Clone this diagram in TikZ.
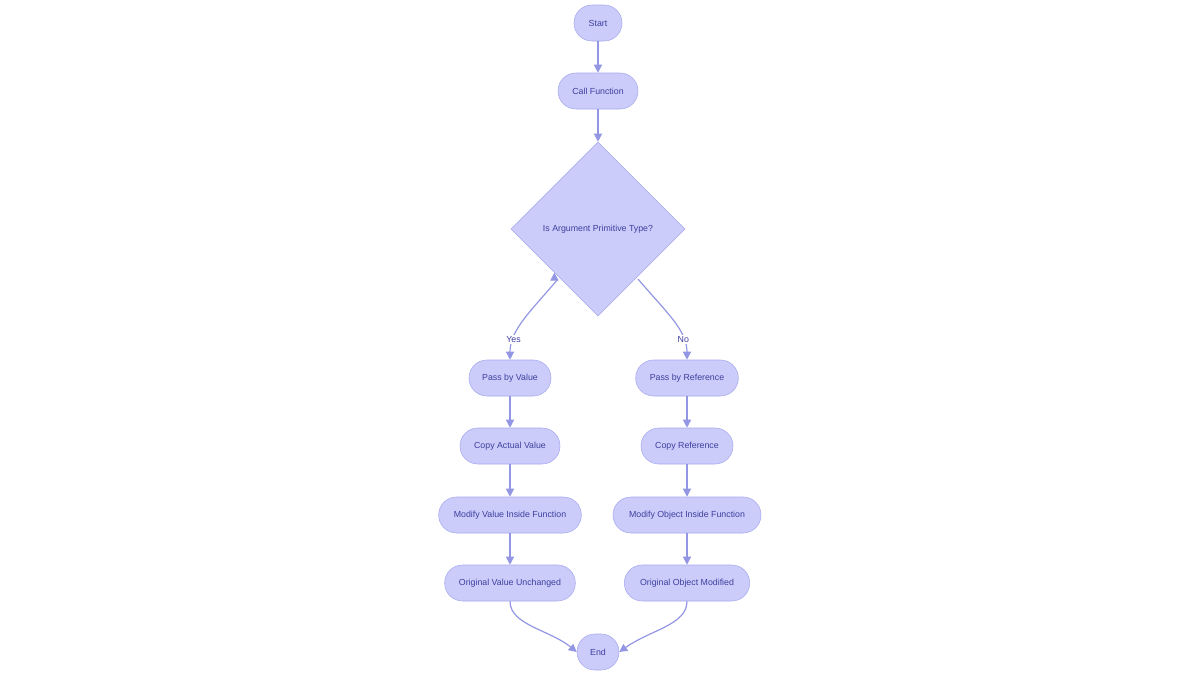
\documentclass[tikz,border=0pt]{standalone}
\usepackage{fontspec}
\setmainfont{Liberation Sans}
\usetikzlibrary{shapes.geometric,arrows.meta}
\definecolor{nfill}{HTML}{CBCCFA}
\definecolor{nline}{HTML}{A6A9EE}
\definecolor{ntext}{HTML}{3E3F9E}
\definecolor{eline}{HTML}{9396E3}
\begin{document}
\begin{tikzpicture}[x=0.75pt,y=-0.75pt,
  box/.style={draw=nline,fill=nfill,text=ntext,rounded corners=13.4pt,minimum height=27pt,inner sep=0pt,font=\fontsize{6.6}{8}\selectfont},
  dia/.style={draw=nline,fill=nfill,text=ntext,diamond,minimum width=130.5pt,minimum height=130.5pt,inner sep=0pt,font=\fontsize{6.6}{8}\selectfont},
  conn/.style={draw=eline,line width=0.9pt,-{Triangle[length=6pt,width=6pt]}},
  lbl/.style={text=ntext,fill=white,inner sep=1pt,font=\fontsize{6.6}{8}\selectfont}]
\useasboundingbox (0,0) rectangle (1200,675);
\node[box,minimum width=36pt] (start) at (598,23) {Start};
\node[box,minimum width=60pt] (call) at (598,91) {Call Function};
\node[dia] (d) at (598,229) {Is Argument Primitive Type?};
\node[box,minimum width=61.5pt] (pv) at (510,378) {Pass by Value};
\node[box,minimum width=77pt] (pr) at (687,378) {Pass by Reference};
\node[box,minimum width=75pt] (cv) at (510,446) {Copy Actual Value};
\node[box,minimum width=69pt] (cr) at (687,446) {Copy Reference};
\node[box,minimum width=107pt] (mv) at (510,515) {Modify Value Inside Function};
\node[box,minimum width=111pt] (mo) at (687,515) {Modify Object Inside Function};
\node[box,minimum width=98pt] (ov) at (510,583) {Original Value Unchanged};
\node[box,minimum width=94pt] (oo) at (687,583) {Original Object Modified};
\node[box,minimum width=31.5pt] (end) at (598,652) {End};
\draw[conn] (start) -- (call);
\draw[conn] (call) -- (d);
\draw[conn] (d.south west) ++(0,0) coordinate (dl);
\coordinate (ysl) at (558,279);
\coordinate (nsl) at (638,279);
\draw[conn] (ysl) .. controls (530,312) and (510,330) .. (pv.north) node[lbl,pos=0.75] {Yes};
\draw[conn] (nsl) .. controls (666,312) and (687,330) .. (pr.north) node[lbl,pos=0.75] {No};
\draw[conn] (pv) -- (cv);
\draw[conn] (cv) -- (mv);
\draw[conn] (mv) -- (ov);
\draw[conn] (pr) -- (cr);
\draw[conn] (cr) -- (mo);
\draw[conn] (mo) -- (oo);
\draw[conn] (ov.south) .. controls (510,625) and (550,630) .. (end.west);
\draw[conn] (oo.south) .. controls (687,625) and (650,630) .. (end.east);
\end{tikzpicture}
\end{document}
